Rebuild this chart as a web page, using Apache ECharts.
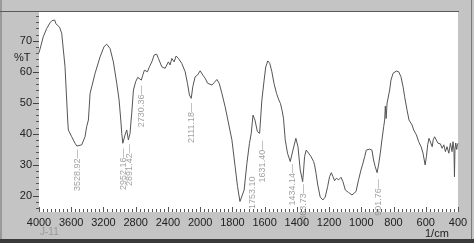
<!DOCTYPE html>
<html>
<head>
<meta charset="utf-8">
<script src="https://cdn.jsdelivr.net/npm/echarts@6/dist/echarts.min.js"></script>
<style>html,body{margin:0;padding:0;background:#ffffff;}#c{width:474px;height:243px;}</style>
</head>
<body>
<div id="c"></div>
<script>
const wavenumbers = [4000,3947,3904,3863,3840,3822,3805,3790,3770,3745,3718,3677,3644,3636,3594,3553,3529,3470,3429,3408,3387,3366,3304,3242,3193,3159,3118,3077,3035,3006,2985,2973,2960,2952,2932,2911,2891,2870,2857,2849,2828,2800,2774,2754,2730,2712,2692,2671,2654,2630,2600,2571,2559,2540,2518,2476,2435,2394,2373,2352,2323,2298,2270,2228,2186,2158,2133,2111,2091,2062,2034,2000,1983,1969,1954,1942,1927,1913,1896,1882,1865,1845,1828,1803,1783,1768,1753,1741,1727,1710,1694,1683,1672,1660,1645,1631,1617,1603,1593,1580,1568,1555,1542,1526,1512,1502,1492,1483,1472,1458,1441,1434,1424,1406,1393,1379,1364,1358,1352,1342,1327,1312,1296,1290,1281,1270,1255,1238,1224,1209,1197,1186,1176,1166,1155,1141,1126,1114,1099,1079,1058,1048,1033,1017,1002,990,979,969,961,949,934,924,914,902,893,882,872,861,855,851,846,840,824,816,803,783,768,754,741,731,716,704,685,675,658,644,629,617,604,596,588,580,571,560,554,545,534,524,509,499,488,478,468,457,447,437,431,425,422,419,414,408,404,400];
const transmittance = [66.2,71.4,74.1,75.9,76.6,76.2,76.8,75.6,76.0,74.5,72.5,61.7,44.5,41.3,39.1,37.0,36.1,36.5,39.1,42.4,44.5,53.1,59.6,64.9,68.2,69.0,67.6,63.3,56.4,51.0,44.5,40.2,37.0,36.8,39.7,41.3,38.1,40.2,44.5,46.7,54.2,56.9,58.3,58.7,57.4,59.0,60.6,61.2,60.1,61.7,63.3,65.5,66.0,65.8,64.4,61.7,61.2,63.3,62.3,64.4,63.3,65.2,64.4,62.8,60.1,56.4,52.6,51.5,55.3,58.5,59.0,60.4,59.0,58.0,56.4,55.8,55.8,56.6,57.6,56.4,53.1,48.8,44.5,38.1,29.5,23.0,18.2,18.7,21.9,30.5,37.0,40.2,46.1,44.5,40.8,40.2,51.0,57.4,61.7,63.6,62.8,60.1,56.4,53.1,51.0,49.9,47.7,45.1,38.1,33.8,31.1,30.8,34.8,38.6,35.9,28.4,24.6,28.4,32.7,34.8,33.8,32.7,31.1,30.0,27.3,23.5,19.6,18.7,19.6,23.0,26.2,27.5,26.2,24.9,25.7,25.2,26.0,24.6,21.9,21.1,20.3,20.0,21.4,25.2,28.4,30.5,32.7,34.8,35.4,35.1,34.8,31.6,29.5,27.5,30.0,33.8,38.1,42.4,44.5,49.0,45.0,50.0,54.2,57.4,59.6,60.3,60.1,58.5,55.3,52.0,47.7,44.5,42.9,41.3,39.7,37.5,35.9,33.8,30.0,32.7,36.5,38.6,38.3,35.9,38.1,39.1,38.6,37.0,36.8,35.4,36.5,34.3,35.9,33.8,37.0,34.3,37.5,34.8,26.2,34.8,37.1,35.0,36.5,37.0];
const peakWn = [3528.92,2952.16,2891.42,2730.36,2111.18,1753.10,1631.40,1434.14,1363.73,901.76];
const peakT = [36.1,36.8,38.1,57.4,51.5,18.2,40.2,30.8,24.6,27.5];
const xTickLabels = [4000,3600,3200,2800,2400,2000,1800,1600,1400,1200,1000,800,600,400];
const yTickLabels = [20,30,40,50,60,70];
const yMinorTicks = [16,18,22,24,26,28,32,34,36,38,42,44,46,48,52,54,56,58,62,64,66,68,72,74,76,78];

function toT(w){ return w >= 2000 ? (4000 - w) / 2 : 1000 + (2000 - w); }
function fromT(t){ return t <= 1000 ? 4000 - 2 * t : 2000 - (t - 1000); }

const FONT = 'Liberation Sans';
const GRAY = '#c4c4c4';
const Y_MIN = 14.8, Y_MAX = 79.4;
const chart = echarts.init(document.getElementById('c'));

const xMajor = xTickLabels.map(toT);
const xMinor = [];
for (let i = 0; i < xMajor.length - 1; i++) {
  for (let k = 1; k < 8; k++) xMinor.push(xMajor[i] + (xMajor[i + 1] - xMajor[i]) * k / 8);
}

const lineData = wavenumbers.map((w, i) => [toT(w), transmittance[i]]);
const peakOffsets = [[1,4],[1,5],[2,5],[1,6],[1,5],[13,8],[3,8],[2,2],[1,3],[2,7]];
const peakData = peakWn.map((w, i) => {
  const isSide = (w === 1753.10);
  return {
    value: [toT(w), peakT[i]],
    name: w.toFixed(2),
    label: isSide ? {position: peakOffsets[i], align: 'left', formatter: w.toFixed(2)} : {position: peakOffsets[i]}
  };
});

// tick marks as a custom series driven by the x scale
const tickData = xMajor.map(t => [t, 5]).concat(xMinor.map(t => [t, 3]));

chart.setOption({
  animation: false,
  backgroundColor: '#ffffff',
  grid: {left: 39, right: 16, top: 12, bottom: 31, show: false, outerBoundsMode: 'none'},
  xAxis: [{
    type: 'value', min: 0, max: 2600, position: 'bottom', z: 10,
    axisLine: {show: false, onZero: false},
    splitLine: {show: false},
    axisTick: {show: false},
    axisLabel: {
      customValues: xMajor,
      formatter: v => String(Math.round(fromT(v))),
      color: '#222', fontSize: 11, fontFamily: FONT, margin: 5
    }
  }],
  yAxis: [{
    type: 'value', min: Y_MIN, max: Y_MAX, z: 10,
    axisLine: {show: false},
    splitLine: {show: false},
    axisTick: {show: true, customValues: yTickLabels, length: 6, lineStyle: {color: '#444'}},
    axisLabel: {customValues: yTickLabels, color: '#222', fontSize: 11, fontFamily: FONT, margin: 7}
  }, {
    type: 'value', min: Y_MIN, max: Y_MAX, position: 'left', z: 10,
    axisLine: {show: false},
    splitLine: {show: false},
    axisTick: {show: true, customValues: yMinorTicks, length: 3, lineStyle: {color: '#555'}},
    axisLabel: {show: false}
  }],
  series: [{
    type: 'line', data: lineData, showSymbol: false, symbol: 'none',
    lineStyle: {color: '#555555', width: 1}, z: 3
  }, {
    type: 'custom', data: tickData, z: 6, silent: true, clip: false,
    encode: {x: 0},
    renderItem: function (params, api) {
      const p = api.coord([api.value(0), Y_MIN]);
      const len = api.value(1);
      const x = Math.round(p[0]) + 0.5;
      return {
        type: 'line',
        shape: {x1: x, y1: p[1], x2: x, y2: p[1] - len},
        style: {stroke: '#555', lineWidth: 1}
      };
    }
  }, {
    type: 'scatter', data: peakData, symbolSize: 1, itemStyle: {color: 'rgba(0,0,0,0)'},
    label: {
      show: true, rotate: 90, align: 'right', verticalAlign: 'middle',
      fontSize: 9, fontFamily: FONT, color: '#8a8a8a',
      formatter: p => p.name + '\u2014'
    }, z: 4
  }],
  graphic: [
    {type: 'rect', z: -10, shape: {x: 0, y: 0, width: 474, height: 12}, style: {fill: GRAY}, silent: true},
    {type: 'rect', z: -10, shape: {x: 0, y: 0, width: 39, height: 243}, style: {fill: GRAY}, silent: true},
    {type: 'rect', z: -10, shape: {x: 458, y: 0, width: 16, height: 243}, style: {fill: GRAY}, silent: true},
    {type: 'rect', z: -10, shape: {x: 0, y: 212, width: 474, height: 31}, style: {fill: GRAY}, silent: true},
    {type: 'rect', z: -9, shape: {x: 0, y: 0, width: 2, height: 243}, style: {fill: '#9a9a9a'}, silent: true},
    {type: 'line', z: -9, shape: {x1: 0, y1: 11.5, x2: 459, y2: 11.5}, style: {stroke: '#5a5a5a', lineWidth: 1}, silent: true},
    {type: 'line', z: -9, shape: {x1: 471.5, y1: 0, x2: 471.5, y2: 240}, style: {stroke: '#7a7a7a', lineWidth: 1}, silent: true},
    {type: 'rect', z: -9, shape: {x: 0, y: 239, width: 474, height: 4}, style: {fill: '#3a3a3a'}, silent: true},
    {type: 'text', left: 14, top: 52, style: {text: '%T', font: '11px "Liberation Sans"', fill: '#222'}},
    {type: 'text', left: 40, top: 227, style: {text: 'J-11', font: '10px "Liberation Sans"', fill: '#9a9a9a'}},
    {type: 'text', left: 425, top: 228, style: {text: '1/cm', font: '11px "Liberation Sans"', fill: '#222'}}
  ]
});
</script>
</body>
</html>
